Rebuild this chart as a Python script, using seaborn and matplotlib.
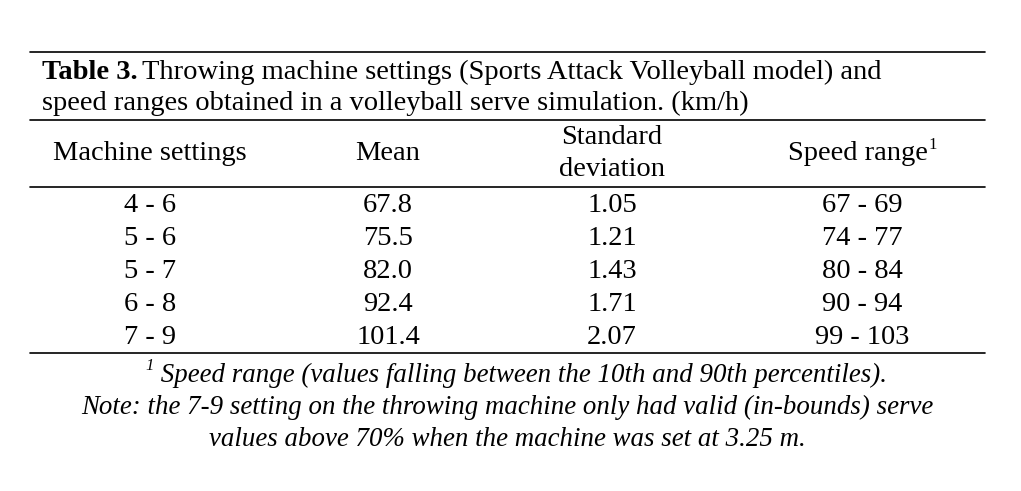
import matplotlib
matplotlib.use("Agg")
import matplotlib.pyplot as plt
import seaborn as sns

sns.set_style("white")
plt.rcParams['font.family'] = ['Liberation Serif', 'DejaVu Serif']
plt.rcParams['text.color'] = 'black'

settings = ["4 - 6", "5 - 6", "5 - 7", "6 - 8", "7 - 9"]
means = ["67.8", "75.5", "82.0", "92.4", "101.4"]
sds = ["1.05", "1.21", "1.43", "1.71", "2.07"]
ranges = ["67 - 69", "74 - 77", "80 - 84", "90 - 94", "99 - 103"]

W, H = 1021, 491
fig = plt.figure(figsize=(W/100, H/100), dpi=100)
ax = fig.add_axes([0, 0, 1, 1])
ax.set_xlim(0, W); ax.set_ylim(H, 0); ax.axis("off")
fs = 20.5
fsi = 19.4
fig.canvas.draw()
r = fig.canvas.get_renderer()

def width(t):
    return t.get_window_extent(renderer=r).width

for y in [52, 120, 187, 353]:
    ax.plot([30, 985], [y, y], color="black", lw=1.2)

t = ax.text(42, 72, "Table 3.", fontsize=fs, fontweight="bold", va="center")
ax.text(42 + width(t) + 4, 72, "Throwing machine settings (Sports Attack Volleyball model) and",
        fontsize=fs, va="center")
ax.text(42, 103, "speed ranges obtained in a volleyball serve simulation. (km/h)", fontsize=fs, va="center")

cols = [150, 388, 612, 862]
ax.text(cols[0], 154, "Machine settings", fontsize=fs, ha="center", va="center")
ax.text(cols[1], 154, "Mean", fontsize=fs, ha="center", va="center")
ax.text(cols[2], 138, "Standard", fontsize=fs, ha="center", va="center")
ax.text(cols[2], 170, "deviation", fontsize=fs, ha="center", va="center")
t = ax.text(cols[3] - 4, 154, "Speed range", fontsize=fs, ha="center", va="center")
ax.text(cols[3] - 4 + width(t)/2 + 1, 145, "1", fontsize=12, ha="left", va="center")

for i in range(len(settings)):
    y = 206 + i*32.8
    for c, v in zip(cols, [settings[i], means[i], sds[i], ranges[i]]):
        ax.text(c, y, v, fontsize=fs, ha="center", va="center")

line1 = " Speed range (values falling between the 10th and 90th percentiles)."
t = ax.text(520, 375, line1, fontsize=fsi, style="italic", ha="center", va="center")
ax.text(520 - width(t)/2 - 4, 366, "1", fontsize=12, style="italic", ha="center", va="center")
ax.text(507, 407, "Note: the 7-9 setting on the throwing machine only had valid (in-bounds) serve",
        fontsize=fsi, style="italic", ha="center", va="center")
ax.text(507, 439, "values above 70% when the machine was set at 3.25 m.",
        fontsize=fsi, style="italic", ha="center", va="center")

fig.savefig("out.png", dpi=100, facecolor="white")
